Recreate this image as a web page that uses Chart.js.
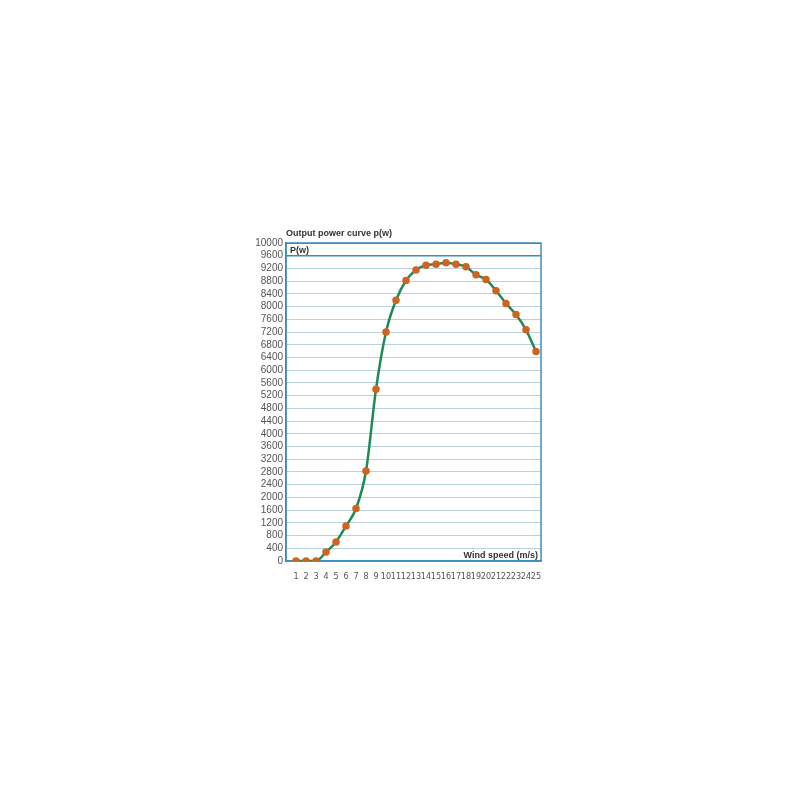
<!DOCTYPE html>
<html>
<head>
<meta charset="utf-8">
<script src="https://cdn.jsdelivr.net/npm/chart.js@4"></script>
<style>
  body { margin: 0; background: #fff; }
</style>
</head>
<body>
<canvas id="powerChart" width="800" height="800"></canvas>
<script>
var windSpeeds = [1,2,3,4,5,6,7,8,9,10,11,12,13,14,15,16,17,18,19,20,21,22,23,24,25];
var powerValues = [0,0,0,280,600,1100,1650,2830,5400,7200,8200,8820,9150,9300,9330,9380,9330,9250,9000,8850,8500,8100,7750,7270,6590];
var yTicks = [0,400,800,1200,1600,2000,2400,2800,3200,3600,4000,4400,4800,5200,5600,6000,6400,6800,7200,7600,8000,8400,8800,9200,9600,10000];

var borderBlue = "#3b8cbc";
var gridBlue = "#b9d0de";

var points = windSpeeds.map(function (w, i) { return { x: w, y: powerValues[i] }; });

// box outline, titles and axis captions
var captions = {
    id: "captions",
    beforeDatasetsDraw: function (chart) {
        var ctx = chart.ctx, a = chart.chartArea;
        ctx.save();
        ctx.strokeStyle = borderBlue;
        ctx.lineWidth = 1.5;
        ctx.strokeRect(a.left, a.top, a.right - a.left, a.bottom - a.top);
        ctx.restore();
    },
    afterDraw: function (chart) {
        var ctx = chart.ctx, a = chart.chartArea;
        ctx.save();
        ctx.fillStyle = "#333";
        ctx.font = "bold 9px 'Liberation Sans', Arial";
        ctx.textBaseline = "alphabetic";
        ctx.textAlign = "left";
        ctx.fillText("Output power curve p(w)", a.left, a.top - 7);
        ctx.fillText("P(w)", a.left + 4, a.top + 10);
        ctx.textAlign = "right";
        ctx.fillText("Wind speed (m/s)", a.right - 3, a.bottom - 3);
        ctx.restore();
    }
};

new Chart("powerChart", {
    type: "line",
    data: {
        datasets: [{
            data: points,
            borderColor: "#1f8a55",
            borderWidth: 2.5,
            cubicInterpolationMode: "monotone",
            pointBackgroundColor: "#cf6320",
            pointBorderColor: "#cf6320",
            pointRadius: 2.5,
            fill: false
        }]
    },
    options: {
        responsive: false,
        animation: false,
        layout: { padding: { left: 250, right: 259, top: 243, bottom: 217 } },
        plugins: {
            legend: { display: false },
            tooltip: { enabled: false }
        },
        scales: {
            x: {
                type: "linear",
                min: 0,
                max: 25.5,
                afterFit: function (s) { s.height = 22; },
                afterBuildTicks: function (s) {
                    s.ticks = windSpeeds.map(function (w) { return { value: w }; });
                },
                grid: { display: false },
                border: { color: borderBlue, width: 1.5 },
                ticks: {
                    autoSkip: false,
                    maxRotation: 0,
                    padding: 2,
                    color: "#555",
                    callback: function (v) { return String(v); },
                    font: { family: "'DejaVu Sans Condensed', 'Liberation Sans Narrow', Arial", size: 9 }
                }
            },
            y: {
                min: 0,
                max: 10000,
                afterFit: function (s) { s.width = 36; },
                afterBuildTicks: function (s) {
                    s.ticks = yTicks.map(function (v) { return { value: v }; });
                },
                grid: {
                    drawTicks: false,
                    color: function (c) {
                        return (c.tick && (c.tick.value === 9600 || c.tick.value === 10000)) ? borderBlue : gridBlue;
                    },
                    lineWidth: function (c) {
                        return (c.tick && c.tick.value === 9600) ? 1.5 : 1;
                    }
                },
                border: { color: borderBlue, width: 1.5 },
                ticks: {
                    autoSkip: false,
                    padding: 3,
                    color: "#555",
                    callback: function (v) { return String(v); },
                    font: { family: "'Liberation Sans', Arial", size: 10 }
                }
            }
        }
    },
    plugins: [captions]
});
</script>
</body>
</html>
